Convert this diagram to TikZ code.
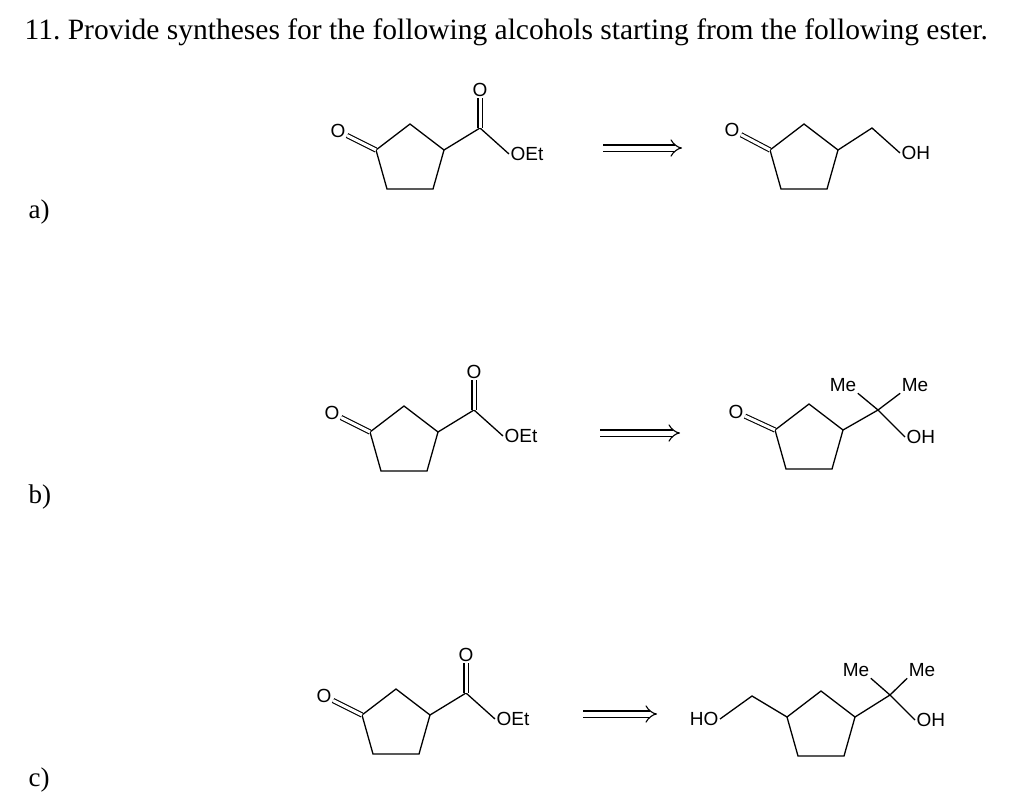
\documentclass[tikz,border=0pt]{standalone}
\usepackage{fontspec}
\setmainfont{Liberation Serif}
\newfontfamily\atomfont{Liberation Sans}
\usetikzlibrary{arrows.meta}
\begin{document}
\begin{tikzpicture}[x=1pt,y=-1pt,line width=1.3pt,
  atom/.style={font=\atomfont\fontsize{19}{19}\selectfont,inner sep=1pt},
  dbl/.style={double,double distance=3pt,line width=1.1pt},
  retro/.style={double,double distance=5pt,line width=1.1pt,-{Implies[length=10pt]}},
  ring/.pic={
    \coordinate (-c1) at (0,0); \coordinate (-c2) at (34,-26);
    \coordinate (-c3) at (68,0); \coordinate (-c4) at (57,39);
    \coordinate (-c5) at (11,39);
    \draw (-c1)--(-c2)--(-c3)--(-c4)--(-c5)--cycle;},
  ester/.pic={
    \pic (-r) at (0,0) {ring};
    \node[atom] (-o1) at (-38,-19) {O};
    \draw[dbl] (-o1)--(-r-c1);
    \coordinate (-cc) at (104,-22);
    \node[atom] (-o2) at (104,-60) {O};
    \node[atom,anchor=west] (-oet) at (133,4) {OEt};
    \draw (-r-c3)--(-cc)--(-oet.west);
    \draw[dbl] (-cc)--(-o2);}
]
\fill[white] (0,0) rectangle (1024,811);
\useasboundingbox (0,0) rectangle (1024,811);
\node[anchor=west,inner sep=0pt,font=\fontsize{29.5}{29.5}\selectfont] (title) at (24,32) {11.\ Provide syntheses for the following alcohols starting from the following ester.};
\node[anchor=west,inner sep=0pt,font=\fontsize{27}{27}\selectfont] (la) at (28,212) {a)};
\node[anchor=west,inner sep=0pt,font=\fontsize{27}{27}\selectfont] (lb) at (28,497) {b)};
\node[anchor=west,inner sep=0pt,font=\fontsize{27}{27}\selectfont] (lc) at (28,780) {c)};
% esters
\pic (ea) at (376,150) {ester};
\pic (eb) at (370,432) {ester};
\pic (ec) at (362,715) {ester};
% arrows
\coordinate (a1) at (603,148); \coordinate (a2) at (682,148);
\coordinate (b1) at (600,433); \coordinate (b2) at (680,433);
\coordinate (c1) at (583,714); \coordinate (c2) at (657,714);
\draw[retro] (a1)--(a2);
\draw[retro] (b1)--(b2);
\draw[retro] (c1)--(c2);
% product a
\pic (pa) at (770,150) {ring};
\node[atom] (pao) at (732,130) {O};
\draw[dbl] (pao)--(pa-c1);
\coordinate (pach) at (872,128);
\node[atom,anchor=west] (paoh) at (900,153) {OH};
\draw (pa-c3)--(pach)--(paoh.west);
% product b
\pic (pb) at (775,430) {ring};
\node[atom] (pbo) at (736,412) {O};
\draw[dbl] (pbo)--(pb-c1);
\coordinate (pbq) at (878,410);
\node[atom] (pbm1) at (843,385) {Me};
\node[atom] (pbm2) at (915,385) {Me};
\node[atom,anchor=west] (pboh) at (905,437) {OH};
\draw (pb-c3)--(pbq);
\draw (pbq)--(pbm1.south east);
\draw (pbq)--(pbm2.south west);
\draw (pbq)--(pboh.west);
% product c
\pic (pc) at (787,717) {ring};
\coordinate (pcch) at (752,696);
\node[atom,anchor=east] (pcho) at (720,719) {HO};
\draw (pc-c1)--(pcch)--(pcho.east);
\coordinate (pcq) at (890,695);
\node[atom] (pcm1) at (856,670) {Me};
\node[atom] (pcm2) at (922,670) {Me};
\node[atom,anchor=west] (pcoh) at (915,720) {OH};
\draw (pc-c3)--(pcq);
\draw (pcq)--(pcm1.south east);
\draw (pcq)--(pcm2.south west);
\draw (pcq)--(pcoh.west);
\end{tikzpicture}
\end{document}
